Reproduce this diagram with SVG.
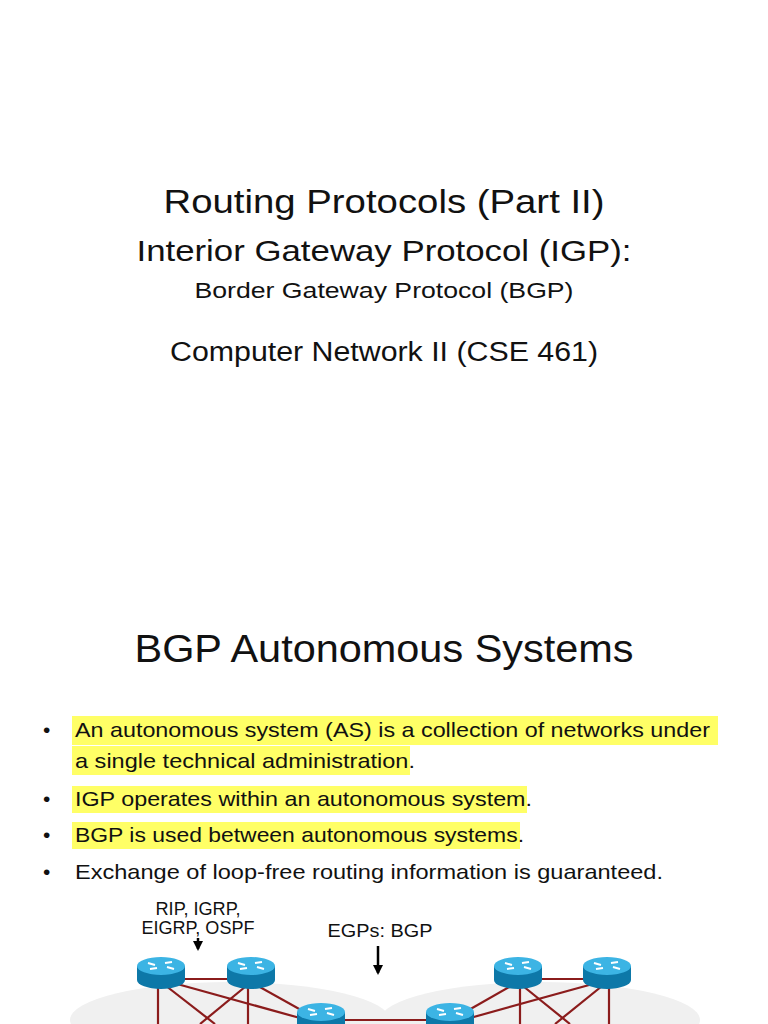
<svg xmlns="http://www.w3.org/2000/svg" width="768" height="1024" viewBox="0 0 768 1024">
<style>
text{font-family:"Liberation Sans",Arial,sans-serif;fill:#111}
.t{text-anchor:middle}
.b{font-size:21px}
.hl{fill:#ffff66}
.lk{stroke:#8b1c1c;stroke-width:2.2;fill:none}
.ar{stroke:#000;stroke-width:2.5}
</style>
<defs>
<marker id="ah" viewBox="0 0 10 10" refX="8" refY="5" markerWidth="4" markerHeight="4" orient="auto"><path d="M0,0L10,5L0,10z" fill="#000"/></marker>
<g id="rt"><path d="M-24,-6 v14 a24,9 0 0 0 48,0 v-14z" fill="#0d78a8"/><ellipse cx="0" cy="-6" rx="24" ry="9" fill="#3cb4e4"/><path d="M-13,-9 l7,2 M13,-3 l-7,-2 M-11,-3 l7,-1 M11,-10 l-7,1" stroke="#fff" stroke-width="2"/></g>
</defs>
<rect width="768" height="1024" fill="#fff"/>
<g id="title">
<text class="t" x="384" y="213" font-size="34" textLength="441" lengthAdjust="spacingAndGlyphs">Routing Protocols (Part II)</text>
<text class="t" x="384" y="261" font-size="30" textLength="495" lengthAdjust="spacingAndGlyphs">Interior Gateway Protocol (IGP):</text>
<text class="t" x="384" y="298" font-size="22" textLength="379" lengthAdjust="spacingAndGlyphs">Border Gateway Protocol (BGP)</text>
<text class="t" x="384" y="361" font-size="27" textLength="428" lengthAdjust="spacingAndGlyphs">Computer Network II (CSE 461)</text>
<text class="t" x="384" y="662" font-size="38" textLength="499" lengthAdjust="spacingAndGlyphs">BGP Autonomous Systems</text>
</g>
<g id="bullets">
<rect class="hl" x="72" y="716" width="646" height="29"/>
<rect class="hl" x="72" y="746" width="338" height="29"/>
<rect class="hl" x="72" y="786" width="455" height="27"/>
<rect class="hl" x="72" y="822" width="448" height="27"/>
<g class="b">
<text x="43" y="737">•</text><text x="75" y="737" textLength="635" lengthAdjust="spacingAndGlyphs">An autonomous system (AS) is a collection of networks under</text>
<text x="75" y="768" textLength="340" lengthAdjust="spacingAndGlyphs">a single technical administration.</text>
<text x="43" y="806">•</text><text x="75" y="806" textLength="457" lengthAdjust="spacingAndGlyphs">IGP operates within an autonomous system.</text>
<text x="43" y="842">•</text><text x="75" y="842" textLength="449" lengthAdjust="spacingAndGlyphs">BGP is used between autonomous systems.</text>
<text x="43" y="879">•</text><text x="75" y="879" textLength="588" lengthAdjust="spacingAndGlyphs">Exchange of loop-free routing information is guaranteed.</text>
</g>
</g>
<g id="clouds" fill="#f0f0f0">
<ellipse cx="230" cy="1020" rx="160" ry="38"/>
<ellipse cx="540" cy="1020" rx="160" ry="38"/>
</g>
<g id="labels" font-size="18">
<text class="t" x="198" y="915" textLength="85" lengthAdjust="spacingAndGlyphs">RIP, IGRP,</text>
<text class="t" x="198" y="934" textLength="113" lengthAdjust="spacingAndGlyphs">EIGRP, OSPF</text>
<text class="t" x="380" y="937" textLength="105" lengthAdjust="spacingAndGlyphs">EGPs: BGP</text>
</g>
<g id="connectors">
<line class="lk" x1="161" y1="979" x2="251" y2="979"/>
<line class="lk" x1="518" y1="979" x2="607" y2="979"/>
<line class="lk" x1="321" y1="1020" x2="450" y2="1020"/>
<line class="lk" x1="158" y1="980" x2="158" y2="1024"/>
<line class="lk" x1="248" y1="980" x2="248" y2="1024"/>
<line class="lk" x1="161" y1="982" x2="215" y2="1024"/>
<line class="lk" x1="251" y1="982" x2="200" y2="1024"/>
<line class="lk" x1="170" y1="982" x2="300" y2="1018"/>
<line class="lk" x1="251" y1="982" x2="310" y2="1015"/>
<line class="lk" x1="520" y1="982" x2="520" y2="1024"/>
<line class="lk" x1="609" y1="982" x2="609" y2="1024"/>
<line class="lk" x1="518" y1="982" x2="570" y2="1024"/>
<line class="lk" x1="607" y1="982" x2="555" y2="1024"/>
<line class="lk" x1="600" y1="982" x2="470" y2="1018"/>
<line class="lk" x1="518" y1="982" x2="460" y2="1015"/>
<line class="ar" x1="198" y1="938" x2="198" y2="949" marker-end="url(#ah)"/>
<line class="ar" x1="378" y1="946" x2="378" y2="973" marker-end="url(#ah)"/>
</g>
<g id="routers">
<g id="r1"><use href="#rt" x="161" y="972"/></g>
<g id="r2"><use href="#rt" x="251" y="972"/></g>
<g id="r3"><use href="#rt" x="321" y="1018"/></g>
<g id="r4"><use href="#rt" x="450" y="1018"/></g>
<g id="r5"><use href="#rt" x="518" y="972"/></g>
<g id="r6"><use href="#rt" x="607" y="972"/></g>
</g>
</svg>
